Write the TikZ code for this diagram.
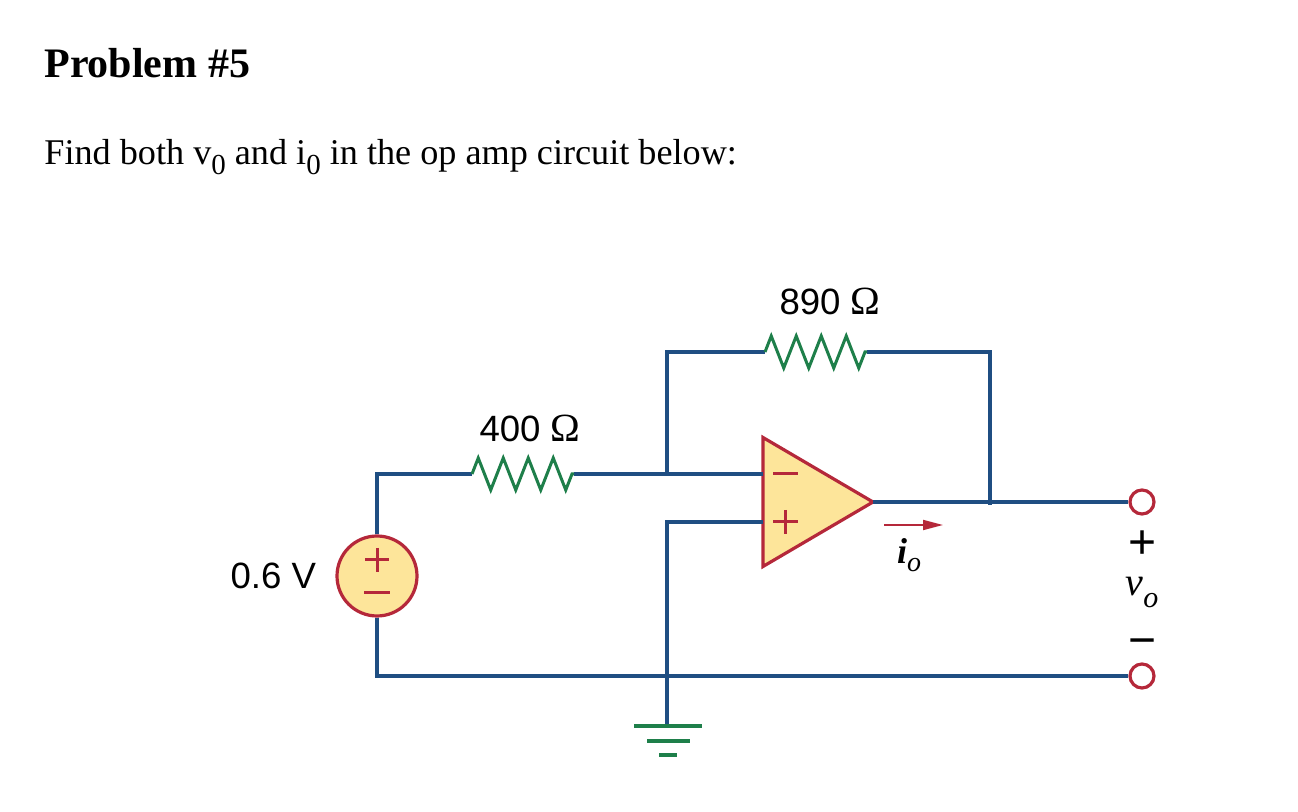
\documentclass[tikz,border=0pt]{standalone}
\usepackage{fontspec}
\setmainfont{Liberation Serif}
\setsansfont{Liberation Sans}
\usetikzlibrary{shapes.geometric, arrows.meta, decorations.pathmorphing, positioning}
\definecolor{wireblue}{HTML}{1F4E82}
\definecolor{partred}{HTML}{B5283A}
\definecolor{partyellow}{HTML}{FDE59A}
\definecolor{resgreen}{HTML}{1E7F4A}
\newcommand{\lowsub}[1]{\raisebox{-0.25em}{\fontsize{14.5pt}{14.5pt}\selectfont #1}}
\tikzset{
    wire/.style={draw=wireblue, line width=2pt},
    resistor/.style={
           draw=resgreen,
           line width=1.5pt,
           decorate,
           decoration={zigzag, segment length=12.5pt, amplitude=8pt},
           },
    ground/.style={draw=resgreen, line width=2pt},
    signmark/.style={draw=partred, line width=1.5pt},
    terminal/.style={
           circle,
           draw=partred,
           fill=white,
           line width=1.6pt,
           minimum size=12pt,
           inner sep=0pt,
           },
    value/.style={font=\sffamily\fontsize{18.3pt}{18.3pt}\selectfont, inner sep=0pt},
    sign/.style={font=\sffamily\fontsize{24pt}{24pt}\selectfont, inner sep=0pt},
}

\begin{document}
\begin{tikzpicture}[x=0.5pt, y=-0.5pt]
 \useasboundingbox (0,0) rectangle (1298,812);

 \node[anchor=base west, inner sep=0pt, font=\bfseries\fontsize{21pt}{21pt}\selectfont] (TITLE) at (44,78)
 {%
  Problem \#5
 };

 \node[anchor=base west, inner sep=0pt, font=\fontsize{18.1pt}{18.1pt}\selectfont] (TASK) at (44,165)
 {%
  Find both v\lowsub{0} and i\lowsub{0} in the op amp circuit below:
 };

 % source and terminals
 \node[circle, draw=partred, fill=partyellow, line width=1.6pt,
       minimum size=40pt, inner sep=0pt] (SOURCE) at (377,576) {};
 \node[terminal] (TERM_P) at (1142,502) {};
 \node[terminal] (TERM_N) at (1142,676) {};

 % op amp
 \node[isosceles triangle, isosceles triangle apex angle=60.8, anchor=apex,
       isosceles triangle stretches,
       draw=partred, fill=partyellow, line width=1.6pt, line join=miter,
       minimum width=64.5pt, minimum height=55pt,
       inner sep=0pt, outer sep=0pt] (OPAMP) at (873,502) {};

 % corners of the circuit
 \coordinate (R1_L) at (472,474);
 \coordinate (R1_R) at (574,474);
 \coordinate (R2_L) at (765,352);
 \coordinate (R2_R) at (867,352);
 \coordinate (IN_N) at (763,474);
 \coordinate (IN_P) at (763,522);
 \coordinate (FB_N) at (667,474);
 \coordinate (FB_O) at (990,505);
 \coordinate (BOT) at (667,676);
 \coordinate (GND) at (667,726);

 \node[value, left=9.5pt of SOURCE] (V_LABEL) {0.6 V};
 \node[value] (R1_LABEL) at (530,428) {400 {\rmfamily\fontsize{20pt}{20pt}\selectfont Ω}};
 \node[value] (R2_LABEL) at (830,301) {890 {\rmfamily\fontsize{20pt}{20pt}\selectfont Ω}};

 \draw[wire] (SOURCE.north) |- (R1_L);
 \draw[wire] (R1_R) -- (IN_N);
 \draw[wire] (FB_N) |- (R2_L);
 \draw[wire] (R2_R) -| (FB_O);
 \draw[wire] (OPAMP.apex) -- (TERM_P.west);
 \draw[wire] (IN_P) -| (GND);
 \draw[wire] (SOURCE.south) |- (BOT) -- (TERM_N.west);

 \draw[resistor] (R1_L) -- (R1_R);
 \draw[resistor] (R2_L) -- (R2_R);

 % ground
 \draw[ground] ([xshift=-16.5pt]GND) -- ([xshift=17.5pt]GND);
 \draw[ground] ([xshift=-10pt,yshift=-7.5pt]GND) -- ([xshift=11.5pt,yshift=-7.5pt]GND);
 \draw[ground] ([xshift=-4pt,yshift=-14.5pt]GND) -- ([xshift=5pt,yshift=-14.5pt]GND);

 % signs on the op amp and the source
 \draw[signmark] (773,474) -- (798,474);
 \draw[signmark] (773,522) -- (798,522);
 \draw[signmark] (785,510) -- (785,534);
 \draw[signmark] (365,560) -- (389,560);
 \draw[signmark] (377,548) -- (377,572);
 \draw[signmark] (364,593) -- (390,593);

 % output current
 \coordinate (IO_A) at (884,525);
 \coordinate (IO_B) at (943,525);
 \draw[draw=partred, line width=0.9pt, -{Triangle[length=10pt, width=5pt]}] (IO_A) -- (IO_B);
 \node[inner sep=0pt, font=\fontsize{18pt}{18pt}\selectfont] (IO_LABEL) at (909,555)
 {%
  {\bfseries\itshape i}\raisebox{-0.22em}{\fontsize{14pt}{14pt}\selectfont\itshape o}
 };

 % output voltage
 \node[sign] (VO_PLUS) at (1143,545) {+};
 \node[inner sep=0pt, font=\fontsize{20pt}{20pt}\selectfont] (VO_LABEL) at (1142,592)
 {%
  \itshape v\raisebox{-0.3em}{\fontsize{15pt}{15pt}\selectfont o}
 };
 \node[sign] (VO_MINUS) at (1143,648) {\textminus};

\end{tikzpicture}
\end{document}
